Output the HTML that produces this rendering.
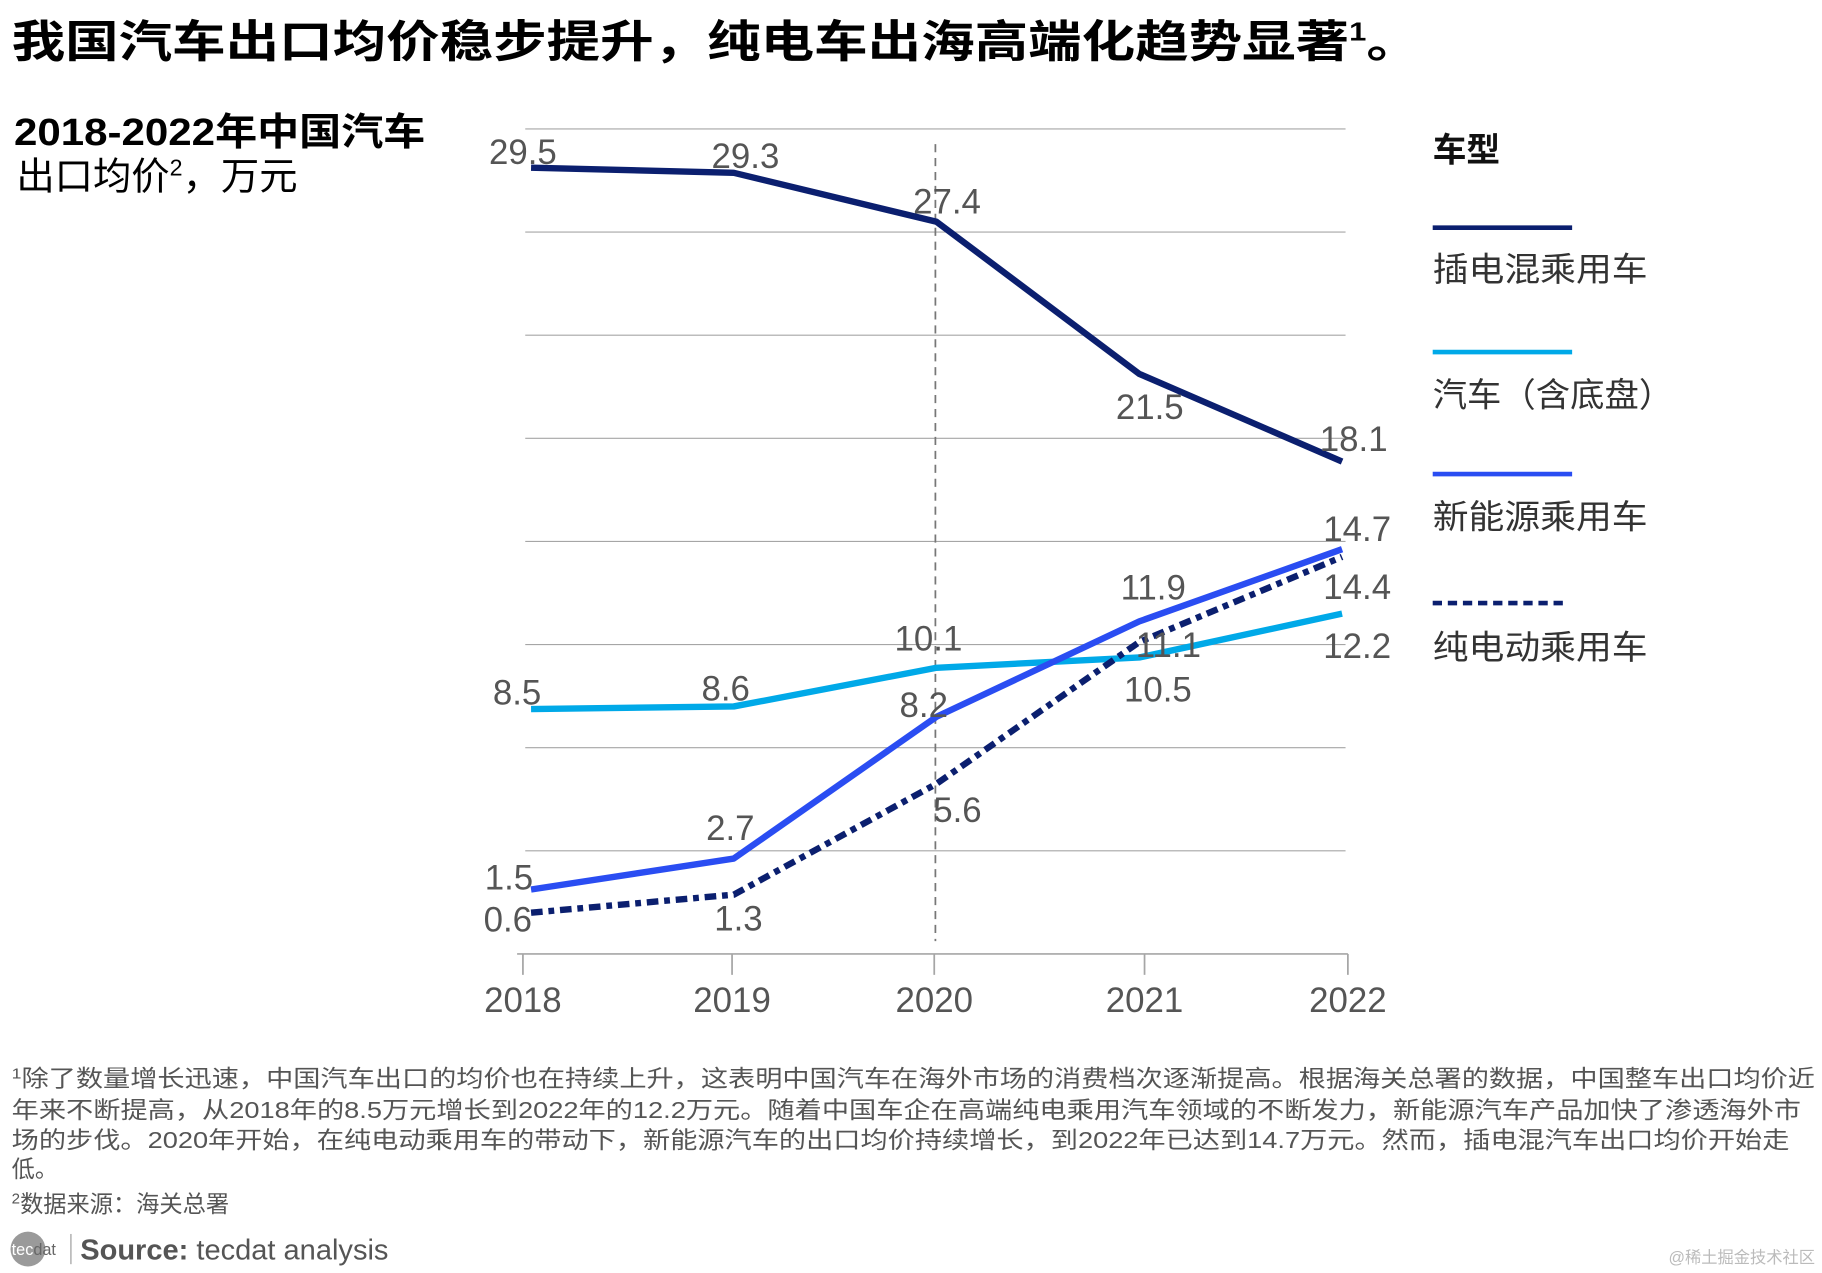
<!DOCTYPE html>
<html><head><meta charset="utf-8">
<style>
html,body{margin:0;padding:0;background:#fff;}
svg{display:block;font-family:"Liberation Sans","Noto Sans CJK SC",sans-serif;}
</style></head>
<body>
<svg id="chart" width="1822" height="1273" viewBox="0 0 1568 1095.6" xmlns="http://www.w3.org/2000/svg">
<text x="10" y="49" font-size="38" font-weight="bold" fill="#000" textLength="1212" lengthAdjust="spacingAndGlyphs">我国汽车出口均价稳步提升，纯电车出海高端化趋势显著<tspan font-size="22" dy="-14">1</tspan><tspan dy="14">。</tspan></text>
<text x="12" y="125" font-size="33" font-weight="bold" fill="#000" textLength="354" lengthAdjust="spacingAndGlyphs">2018-2022年中国汽车</text>
<text x="14" y="163" font-size="33" fill="#000">出口均价<tspan font-size="20" dy="-12">2</tspan><tspan dy="12">，万元</tspan></text>
<g id="grid"></g>
<g id="plot"></g>
<g>
<text x="1233" y="139" font-size="29" font-weight="bold" fill="#111">车型</text>
<line x1="1233" y1="196" x2="1353" y2="196" stroke="#0b1f6f" stroke-width="4"/>
<text x="1233" y="242" font-size="29" fill="#333" textLength="185" lengthAdjust="spacingAndGlyphs">插电混乘用车</text>
<line x1="1233" y1="303" x2="1353" y2="303" stroke="#00a9e8" stroke-width="4"/>
<text x="1233" y="350" font-size="29" fill="#333" textLength="207" lengthAdjust="spacingAndGlyphs">汽车（含底盘）</text>
<line x1="1233" y1="408" x2="1353" y2="408" stroke="#2a4df2" stroke-width="4"/>
<text x="1233" y="455" font-size="29" fill="#333" textLength="185" lengthAdjust="spacingAndGlyphs">新能源乘用车</text>
<line x1="1233" y1="519" x2="1348" y2="519" stroke="#0b1f6f" stroke-width="4" stroke-dasharray="8 5"/>
<text x="1233" y="567" font-size="29" fill="#333" textLength="185" lengthAdjust="spacingAndGlyphs">纯电动乘用车</text>
</g>
<g font-size="20" fill="#555">
<text x="10" y="935" textLength="1552" lengthAdjust="spacingAndGlyphs"><tspan font-size="13" dy="-7">1</tspan><tspan dy="7">除了数量增长迅速，中国汽车出口的均价也在持续上升，这表明中国汽车在海外市场的消费档次逐渐提高。根据海关总署的数据，中国整车出口均价近</tspan></text>
<text x="10" y="962" textLength="1540" lengthAdjust="spacingAndGlyphs">年来不断提高，从2018年的8.5万元增长到2022年的12.2万元。随着中国车企在高端纯电乘用汽车领域的不断发力，新能源汽车产品加快了渗透海外市</text>
<text x="10" y="988" textLength="1530" lengthAdjust="spacingAndGlyphs">场的步伐。2020年开始，在纯电动乘用车的带动下，新能源汽车的出口均价持续增长，到2022年已达到14.7万元。然而，插电混汽车出口均价开始走</text>
<text x="10" y="1013">低。</text>
<text x="10" y="1043"><tspan font-size="13" dy="-7">2</tspan><tspan dy="7">数据来源：海关总署</tspan></text>
</g>
<g>
<circle cx="24" cy="1075" r="15" fill="#9a9a9a"/>
<text x="10" y="1080" font-size="14" fill="#fff">tec<tspan fill="#666">dat</tspan></text>
<line x1="61" y1="1062" x2="61" y2="1088" stroke="#999" stroke-width="1"/>
<text x="69" y="1084" font-size="25" fill="#555"><tspan font-weight="bold">Source:</tspan> tecdat analysis</text>
<text x="1562" y="1087" font-size="14" fill="#bbb" text-anchor="end">@稀土掘金技术社区</text>
</g>
</svg>
<script>
const categories = ['2018','2019','2020','2021','2022'];
const phevValues = [29.5,29.3,27.4,21.5,18.1];
const carValues = [8.5,8.6,10.1,10.5,12.2];
const nevValues = [1.5,2.7,8.2,11.9,14.7];
const bevValues = [0.6,1.3,5.6,11.1,14.4];
const gridTicks = [-1,3,7,11,15,19,23,27,31];

const NS='http://www.w3.org/2000/svg';
const x0=457, x1=1155, yMin=-1, yMax=31, yTop=111, yBot=821;
function xPos(i){return x0+(x1-x0)*i/(categories.length-1);}
function yPos(v){return yBot-(v-yMin)/(yMax-yMin)*(yBot-yTop);}
function mk(tag,attrs,parent){const e=document.createElementNS(NS,tag);for(const k in attrs)e.setAttribute(k,attrs[k]);parent.appendChild(e);return e;}
const grid=document.getElementById('grid'), plot=document.getElementById('plot');
gridTicks.forEach((t,i)=>{
  if(i===0)return;
  const l=mk('line',{x1:452,x2:1158,y1:yPos(t),y2:yPos(t),stroke:'#a6a6a6','stroke-width':1},grid);
  
  
});
const ax=mk('line',{x1:445,x2:1160,y1:yBot,y2:yBot,stroke:'#a6a6a6','stroke-width':1.5},grid);


const tickX=[450,630,804,985,1160];
categories.forEach((c,i)=>{
  const tx=tickX[i];
  const tk=mk('line',{x1:tx,x2:tx,y1:yBot,y2:yBot+18,stroke:'#a6a6a6','stroke-width':1.5},grid);
  
  
  const t=mk('text',{x:tx,y:871,'font-size':30,fill:'#555','text-anchor':'middle'},grid);
  t.textContent=c;
  
  
});
const vl=mk('line',{x1:xPos(2)-1,x2:xPos(2)-1,y1:124,y2:810,stroke:'#777','stroke-width':1.5,'stroke-dasharray':'7 5'},grid);



const series=[
 {name:'phev',vals:phevValues,color:'#0b1f6f',dash:null,off:[[-7,-14],[10,-15],[9,-18],[9,28],[10,-20]]},
 {name:'car',vals:carValues,color:'#00a9e8',dash:null,off:[[-12,-15],[-7,-16],[-7,-26],[16,27],[13,27]]},
 {name:'nev',vals:nevValues,color:'#2a4df2',dash:null,off:[[-19,-11],[-3,-27],[-11,-11],[12,-30],[13,-18]]},
 {name:'bev',vals:bevValues,color:'#0b1f6f',dash:'10 5 5 5',off:[[-20,5],[4,20],[18,22],[25,2],[13,25]]}
];
series.forEach(s=>{
  const pts=s.vals.map((v,i)=>xPos(i)+','+yPos(v)).join(' ');
  const a={points:pts,fill:'none',stroke:s.color,'stroke-width':5.5,'stroke-linejoin':'round'};
  if(s.dash)a['stroke-dasharray']=s.dash;
  const pl=mk('polyline',a,plot);
  
  
});
series.forEach(s=>{
  s.vals.forEach((v,i)=>{
    const t=mk('text',{x:xPos(i)+s.off[i][0],y:yPos(v)+s.off[i][1]+11,'font-size':30,fill:'#555','text-anchor':'middle'},plot);
    t.textContent=v.toFixed(1);
    
    
  });
});
</script>
</body></html>
